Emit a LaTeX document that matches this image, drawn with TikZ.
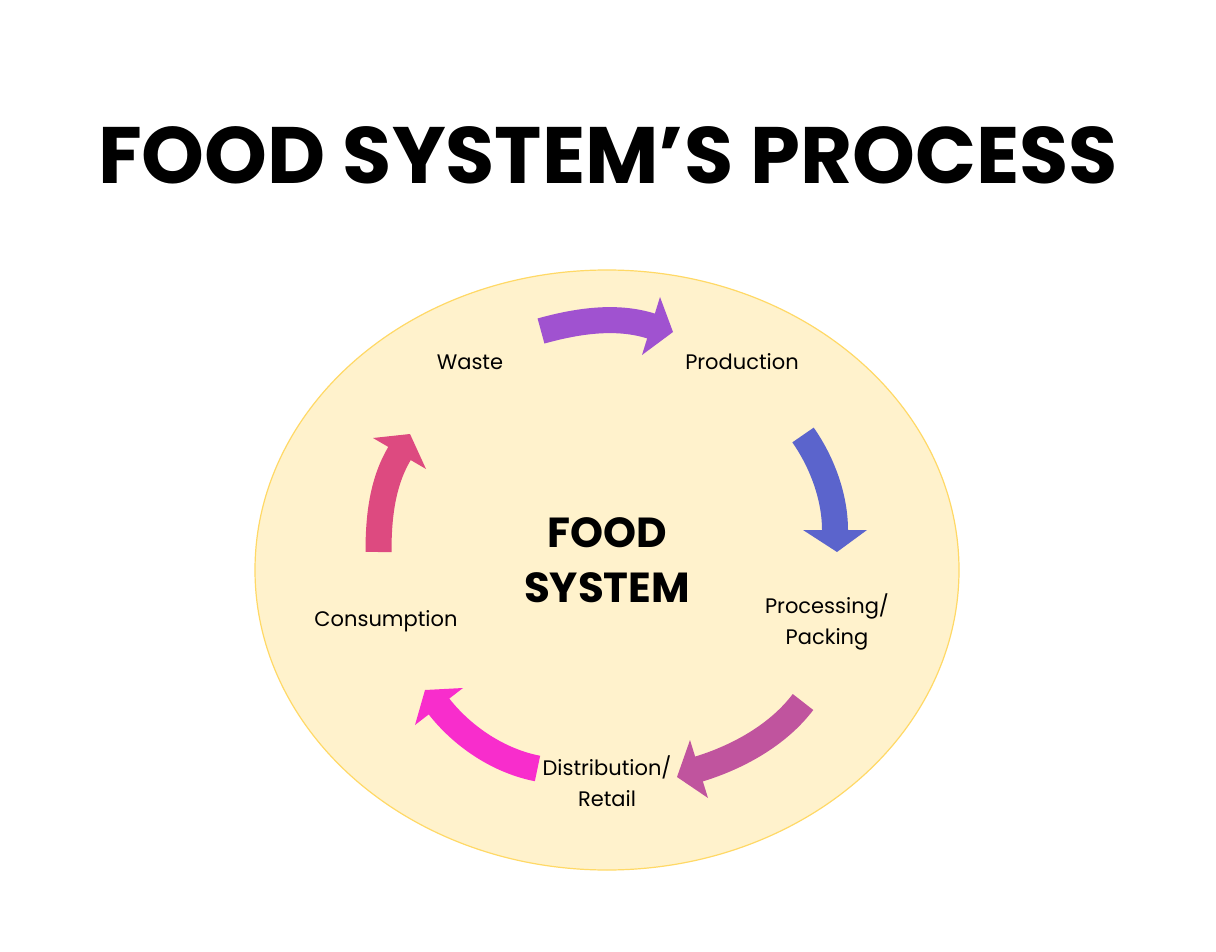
\documentclass[tikz,border=0pt]{standalone}
\usepackage{fontspec}
\setmainfont{Poppins}
\usetikzlibrary{shapes.geometric}
\definecolor{ringfill}{RGB}{255,242,204}
\definecolor{ringdraw}{RGB}{255,217,102}
\definecolor{aone}{RGB}{160,82,208}
\definecolor{atwo}{RGB}{91,100,204}
\definecolor{athree}{RGB}{192,84,158}
\definecolor{afour}{RGB}{248,45,204}
\definecolor{afive}{RGB}{221,74,128}
\begin{document}
\begin{tikzpicture}[x=0.5pt,y=-0.5pt,
  lbl/.style={font=\fontsize{10.5}{15.5}\selectfont, align=center, inner sep=0pt, text=black},
  shaft/.style={line width=13pt},
]
\fill[white] (0,0) rectangle (1216,952);
\useasboundingbox (0,0) rectangle (1216,952);
\node[ellipse, draw=ringdraw, fill=ringfill, line width=0.6pt, minimum width=352pt, minimum height=300pt, inner sep=0pt] (ring) at (607,570) {};
\node[inner sep=0pt] (title) at (608,155) {\fontsize{40}{48}\selectfont\bfseries FOOD SYSTEM’S PROCESS};
\node[inner sep=0pt, align=center, font=\fontsize{21}{27.5}\selectfont\bfseries] (center) at (607,560) {FOOD\\SYSTEM};
\node[lbl] (waste) at (470,362) {Waste};
\node[lbl] (prod) at (742,362) {Production};
\node[lbl] (proc) at (827,622) {Processing/\\Packing};
\node[lbl] (dist) at (607,781) {Distribution/\\Retail};
\node[lbl] (cons) at (386,621) {Consumption};
% arrow 1
\fill[aone] (660,297) -- (673,332) -- (642,355) -- cycle;
\draw[shaft, aone] (541,331) .. controls (577,321) and (616,315) .. (651,326) -- (654.5,327.1);
% arrow 2
\fill[atwo] (803,530) -- (837,552) -- (867,530) -- cycle;
\draw[shaft, atwo] (803,435) .. controls (822,462) and (835,497) .. (835,530) -- (835,533.5);
% arrow 3
\fill[athree] (690,740) -- (677,777) -- (708,798) -- cycle;
\draw[shaft, athree] (803,702) .. controls (778,735) and (738,757) .. (699,769) -- (695.5,770.1);
% arrow 4
\fill[afour] (463,688) -- (425,690) -- (415,725) -- cycle;
\draw[shaft, afour] (537.5,768.5) .. controls (499,761) and (463,737) .. (439,706.5) -- (436.9,703.7);
% arrow 5
\fill[afive] (373,438) -- (410,434) -- (426,469) -- cycle;
\draw[shaft, afive] (378.5,552) .. controls (378.5,518) and (382,483) .. (399.5,453.5) -- (401.3,450.5);
\end{tikzpicture}
\end{document}
